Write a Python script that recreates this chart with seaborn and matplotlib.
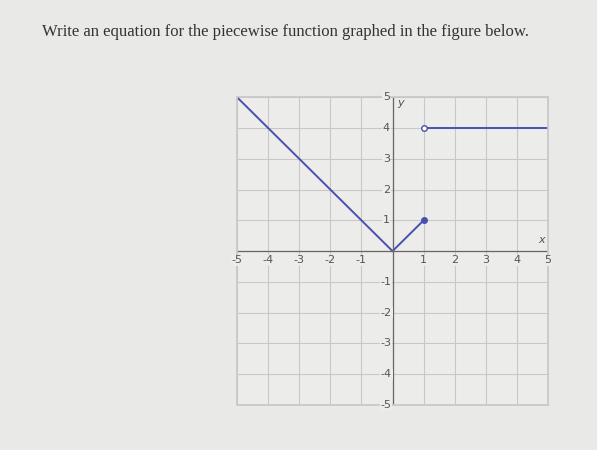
import matplotlib
matplotlib.use("Agg")
import matplotlib.pyplot as plt
import seaborn as sns
import pandas as pd

# piecewise segments
seg1_x = [-5, 0]
seg1_y = [5, 0]
seg2_x = [0, 1]
seg2_y = [0, 1]
seg3_x = [1, 5]
seg3_y = [4, 4]
closed_pt = (1, 1)
open_pt = (1, 4)
ticks = [-5, -4, -3, -2, -1, 1, 2, 3, 4, 5]

sns.set_theme(style="white")
plt.rcParams["font.family"] = ["DejaVu Sans"]

fig = plt.figure(figsize=(5.97, 4.5), dpi=100)
fig.patch.set_facecolor("#e9e9e7")
ax = fig.add_axes([0.397, 0.1, 0.521, 0.684])
ax.set_facecolor("#ececea")

line_color = "#4a50b0"
for xs, ys in [(seg1_x, seg1_y), (seg2_x, seg2_y), (seg3_x, seg3_y)]:
    sns.lineplot(data=pd.DataFrame({"x": xs, "y": ys}), x="x", y="y",
                 ax=ax, color=line_color, linewidth=1.4)
ax.plot(*closed_pt, "o", color=line_color, markersize=4)
ax.plot(*open_pt, "o", markerfacecolor="white", markeredgecolor=line_color, markersize=4)

ax.set_xlim(-5, 5)
ax.set_ylim(-5, 5)
ax.set_xlabel("")
ax.set_ylabel("")
ax.set_xticks(range(-5, 6))
ax.set_yticks(range(-5, 6))
ax.grid(True, which="major", color="#c8c8c6", linewidth=0.8)
ax.tick_params(labelbottom=False, labelleft=False, length=0)
for s in ax.spines.values():
    s.set_color("#c8c8c6")
ax.axhline(0, color="#666666", linewidth=0.9)
ax.axvline(0, color="#666666", linewidth=0.9)

for t in ticks:
    ax.text(t, -0.3, str(t), ha="center", va="center", fontsize=8, color="#555555",
            bbox=dict(facecolor="#ececea", edgecolor="none", pad=0.5))
    ax.text(-0.2, t, str(t), ha="center", va="center", fontsize=8, color="#555555",
            bbox=dict(facecolor="#ececea", edgecolor="none", pad=0.5))
ax.text(4.8, 0.25, "x", fontsize=8, style="italic", color="#555555", ha="center")
ax.text(0.25, 4.7, "y", fontsize=8, style="italic", color="#555555", ha="center")

fig.text(0.07, 0.92, "Write an equation for the piecewise function graphed in the figure below.",
         fontsize=12, family=["Liberation Serif"], color="#333333")

fig.savefig("out.png", dpi=100)
